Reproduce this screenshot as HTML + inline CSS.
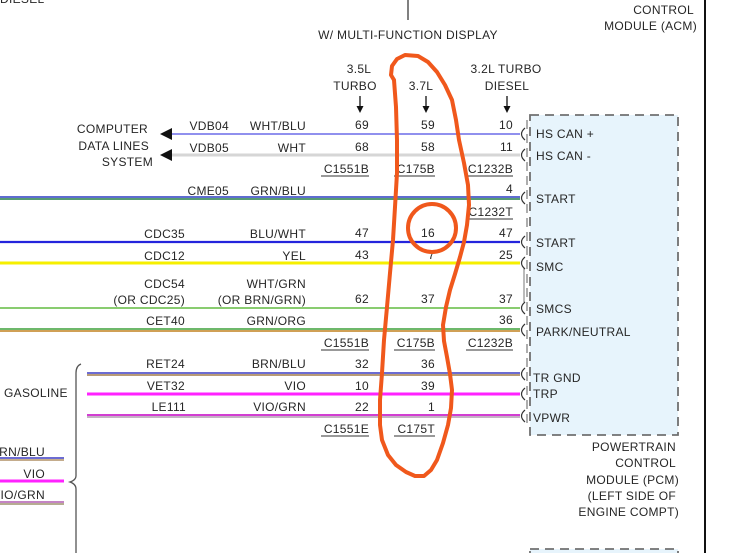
<!DOCTYPE html>
<html>
<head>
<meta charset="utf-8">
<style>
  html,body{margin:0;padding:0;background:#fff;}
  svg{display:block;}
  text{font-family:"Liberation Sans",Arial,sans-serif;font-size:12px;fill:#262626;letter-spacing:0.3px;}
</style>
</head>
<body>
<svg width="739" height="553" viewBox="0 0 739 553" xmlns="http://www.w3.org/2000/svg">
  <rect x="0" y="0" width="739" height="553" fill="#fff"/>

  <!-- top-left partial text -->
  <text x="0" y="3">DIESEL</text>

  <!-- top vertical line -->
  <line x1="408" y1="0" x2="408" y2="20" stroke="#555" stroke-width="1.5"/>

  <!-- ACM label -->
  <text x="694" y="14" text-anchor="end">CONTROL</text>
  <text x="697" y="30" text-anchor="end">MODULE (ACM)</text>

  <text x="408" y="39" text-anchor="middle">W/ MULTI-FUNCTION DISPLAY</text>

  <!-- column headers -->
  <text x="359" y="73" text-anchor="middle">3.5L</text>
  <text x="355" y="90" text-anchor="middle">TURBO</text>
  <text x="421" y="90" text-anchor="middle">3.7L</text>
  <text x="506" y="73" text-anchor="middle">3.2L TURBO</text>
  <text x="507" y="90" text-anchor="middle">DIESEL</text>

  <!-- arrows down -->
  <g stroke="#111" stroke-width="1.3">
    <line x1="360" y1="96" x2="360" y2="107"/>
    <line x1="426" y1="96" x2="426" y2="107"/>
    <line x1="507" y1="96" x2="507" y2="107"/>
  </g>
  <g fill="#111">
    <polygon points="356.5,106 363.5,106 360,113"/>
    <polygon points="422.5,106 429.5,106 426,113"/>
    <polygon points="503.5,106 510.5,106 507,113"/>
  </g>

  <!-- ACM/PCM box -->
  <rect x="530" y="115" width="148" height="320" fill="#e7f4fc" stroke="#707070" stroke-width="1.8" stroke-dasharray="9 6"/>
  <rect x="530" y="549" width="148" height="30" fill="#e7f4fc" stroke="#707070" stroke-width="1.8" stroke-dasharray="9 6"/>

  <!-- right black border line -->
  <line x1="705" y1="0" x2="705" y2="553" stroke="#111" stroke-width="2"/>

  <!-- connector dashed line -->
  <line x1="527" y1="120" x2="527" y2="428" stroke="#777" stroke-width="1.2" stroke-dasharray="9 5"/>
  <line x1="524" y1="268" x2="524" y2="302" stroke="#777" stroke-width="1"/>

  <!-- wires -->
  <!-- VDB04 WHT/BLU -->
  <line x1="172" y1="134" x2="520" y2="134" stroke="#9090ee" stroke-width="2"/>
  <!-- VDB05 WHT -->
  <line x1="172" y1="155" x2="520" y2="155" stroke="#d6d6d6" stroke-width="3"/>
  <!-- CME05 GRN/BLU -->
  <line x1="0" y1="197" x2="520" y2="197" stroke="#2a3cc0" stroke-width="1.6"/>
  <line x1="0" y1="199" x2="520" y2="199" stroke="#1f7a45" stroke-width="1.6"/>
  <!-- CDC35 BLU/WHT -->
  <line x1="0" y1="242" x2="520" y2="242" stroke="#2424dc" stroke-width="2.2"/>
  <!-- CDC12 YEL -->
  <line x1="0" y1="263" x2="520" y2="263" stroke="#f6ef00" stroke-width="3"/>
  <!-- CDC54 WHT/GRN -->
  <line x1="0" y1="308" x2="520" y2="308" stroke="#78c45c" stroke-width="1.8"/>
  <!-- CET40 GRN/ORG -->
  <line x1="0" y1="329" x2="520" y2="329" stroke="#3da03a" stroke-width="1.6"/>
  <line x1="0" y1="331" x2="520" y2="331" stroke="#c0801e" stroke-width="1.6"/>
  <!-- RET24 BRN/BLU -->
  <line x1="87" y1="373" x2="520" y2="373" stroke="#3c3cc4" stroke-width="1.6"/>
  <line x1="87" y1="375" x2="520" y2="375" stroke="#a07a48" stroke-width="1.4"/>
  <!-- VET32 VIO -->
  <line x1="87" y1="394" x2="520" y2="394" stroke="#ff22ff" stroke-width="3"/>
  <!-- LE111 VIO/GRN -->
  <line x1="87" y1="415" x2="520" y2="415" stroke="#d23ed2" stroke-width="2"/>
  <line x1="87" y1="417" x2="520" y2="417" stroke="#8a6a8a" stroke-width="1"/>

  <!-- brackets -->
  <g fill="none" stroke="#333" stroke-width="1.2">
    <path d="M525 128 Q518 134 525 140"/>
    <path d="M525 149 Q518 155 525 161"/>
    <path d="M525 192 Q518 198 525 204"/>
    <path d="M525 236 Q518 242 525 248"/>
    <path d="M525 257 Q518 263 525 269"/>
    <path d="M525 302 Q518 308 525 314"/>
    <path d="M525 324 Q518 330 525 336"/>
    <path d="M525 368 Q518 374 525 380"/>
    <path d="M525 388 Q518 394 525 400"/>
    <path d="M525 410 Q518 416 525 422"/>
  </g>

  <!-- left: computer data lines -->
  <text x="148" y="133" text-anchor="end">COMPUTER</text>
  <text x="149" y="150" text-anchor="end">DATA LINES</text>
  <text x="153" y="166" text-anchor="end">SYSTEM</text>
  <polygon points="160,134 172,128 172,140" fill="#111"/>
  <polygon points="160,155 172,149 172,161" fill="#111"/>

  <!-- circuit labels -->
  <g text-anchor="end">
    <text x="229" y="130">VDB04</text>
    <text x="306" y="130">WHT/BLU</text>
    <text x="369" y="129">69</text>
    <text x="435" y="129">59</text>
    <text x="513" y="129">10</text>

    <text x="229" y="152">VDB05</text>
    <text x="306" y="152">WHT</text>
    <text x="369" y="151">68</text>
    <text x="435" y="151">58</text>
    <text x="513" y="151">11</text>

    <text x="369" y="173">C1551B</text>
    <text x="435" y="173">C175B</text>
    <text x="513" y="173">C1232B</text>

    <text x="229" y="195">CME05</text>
    <text x="306" y="195">GRN/BLU</text>
    <text x="513" y="193">4</text>

    <text x="513" y="216">C1232T</text>

    <text x="185" y="238">CDC35</text>
    <text x="306" y="238">BLU/WHT</text>
    <text x="369" y="237">47</text>
    <text x="435" y="237">16</text>
    <text x="513" y="237">47</text>

    <text x="185" y="260">CDC12</text>
    <text x="306" y="260">YEL</text>
    <text x="369" y="259">43</text>
    <text x="435" y="259">7</text>
    <text x="513" y="259">25</text>

    <text x="185" y="288">CDC54</text>
    <text x="306" y="288">WHT/GRN</text>
    <text x="185" y="304">(OR CDC25)</text>
    <text x="306" y="304">(OR BRN/GRN)</text>
    <text x="369" y="303">62</text>
    <text x="435" y="303">37</text>
    <text x="513" y="303">37</text>

    <text x="185" y="325">CET40</text>
    <text x="306" y="325">GRN/ORG</text>
    <text x="513" y="324">36</text>

    <text x="369" y="347">C1551B</text>
    <text x="435" y="347">C175B</text>
    <text x="513" y="347">C1232B</text>

    <text x="185" y="368">RET24</text>
    <text x="306" y="368">BRN/BLU</text>
    <text x="369" y="368">32</text>
    <text x="435" y="368">36</text>

    <text x="185" y="390">VET32</text>
    <text x="306" y="390">VIO</text>
    <text x="369" y="390">10</text>
    <text x="435" y="390">39</text>

    <text x="186" y="411">LE111</text>
    <text x="306" y="411">VIO/GRN</text>
    <text x="369" y="411">22</text>
    <text x="435" y="411">1</text>

    <text x="369" y="433">C1551E</text>
    <text x="435" y="433">C175T</text>
  </g>

  <!-- underlines for connectors -->
  <g stroke="#333" stroke-width="1">
    <line x1="321" y1="176" x2="369" y2="176"/>
    <line x1="394" y1="176" x2="435" y2="176"/>
    <line x1="466" y1="176" x2="513" y2="176"/>
    <line x1="467" y1="219" x2="513" y2="219"/>
    <line x1="321" y1="350" x2="369" y2="350"/>
    <line x1="394" y1="350" x2="435" y2="350"/>
    <line x1="466" y1="350" x2="513" y2="350"/>
    <line x1="321" y1="436" x2="369" y2="436"/>
    <line x1="394" y1="436" x2="435" y2="436"/>
  </g>

  <!-- right labels in box -->
  <text x="536" y="138">HS CAN +</text>
  <text x="536" y="160">HS CAN -</text>
  <text x="536" y="203">START</text>
  <text x="536" y="247">START</text>
  <text x="536" y="271">SMC</text>
  <text x="536" y="313">SMCS</text>
  <text x="536" y="336">PARK/NEUTRAL</text>
  <text x="533" y="382">TR GND</text>
  <text x="533" y="398">TRP</text>
  <text x="533" y="422">VPWR</text>

  <!-- PCM label -->
  <g text-anchor="end">
    <text x="676" y="451">POWERTRAIN</text>
    <text x="676" y="467">CONTROL</text>
    <text x="679" y="484">MODULE (PCM)</text>
    <text x="676" y="500">(LEFT SIDE OF</text>
    <text x="679" y="516">ENGINE COMPT)</text>
  </g>

  <!-- gasoline group -->
  <text x="4" y="397">GASOLINE</text>
  <path d="M81 364 Q76 366 76 373 L76 476 Q76 480 70 482 Q76 484 76 489 L76 553" fill="none" stroke="#555" stroke-width="1.3"/>

  <!-- bottom-left wires -->
  <g text-anchor="end">
    <text x="45" y="456">BRN/BLU</text>
    <text x="45" y="478">VIO</text>
    <text x="45" y="499">VIO/GRN</text>
  </g>
  <line x1="0" y1="458" x2="64" y2="458" stroke="#3c3cc4" stroke-width="1.6"/>
  <line x1="0" y1="460" x2="64" y2="460" stroke="#a07a48" stroke-width="1.3"/>
  <line x1="0" y1="481" x2="64" y2="481" stroke="#ff22ff" stroke-width="3"/>
  <line x1="0" y1="502" x2="64" y2="502" stroke="#b05cb0" stroke-width="1.6"/>
  <line x1="0" y1="504" x2="64" y2="504" stroke="#8a7a50" stroke-width="1.3"/>

  <!-- orange hand annotation -->
  <polyline fill="none" stroke="#f0581c" stroke-width="4" stroke-linejoin="round" stroke-linecap="round"
    points="394,80 391,75 392,66 397,59 405,55 418,56 428,62 437,72 445,85 452,100 456,120 459,140 464,163 468,185 469,205 467,225 464,242 460,257 455,274 450,290 446,307 443,325 444,341 447,357 450,374 452,390 451,408 448,425 443,443 437,460 431,470 424,476 415,476 406,472 396,465 388,455 382,440 380,425 380,400 382,373 384,340 387,307 390,273 393,240 395,207 397,173 397,140 396,107 394,80"/>
  <ellipse cx="432" cy="228" rx="24" ry="24" fill="none" stroke="#f0581c" stroke-width="4"/>
</svg>
</body>
</html>
